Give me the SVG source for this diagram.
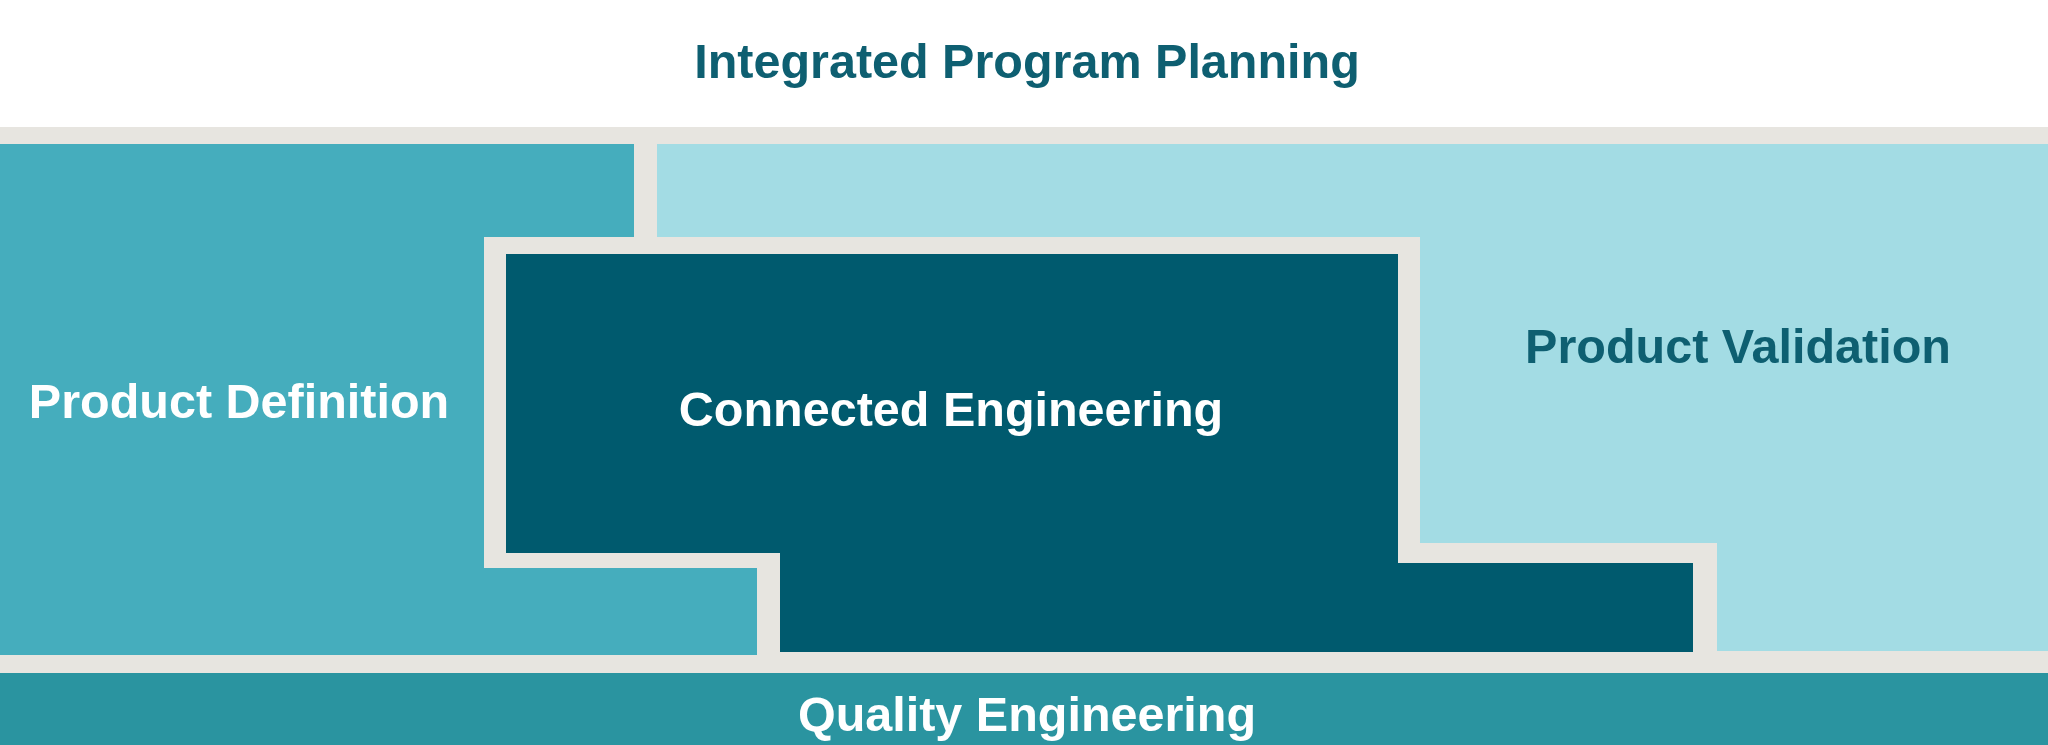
<svg xmlns="http://www.w3.org/2000/svg" width="2048" height="745" viewBox="0 0 2048 745">
<style>
  text { font-family: "Liberation Sans", Arial, sans-serif; font-weight: bold; font-size: 48.5px; text-anchor: middle; }
  .lightText { fill: #FFFFFF; }
  .darkText { fill: #0E5F71; }
</style>
<rect x="0" y="0" width="2048" height="745" fill="#FFFFFF"/>
<rect x="0" y="127" width="2048" height="546" fill="#E7E5E0"/>
<g id="title">
  <text class="darkText" x="1027" y="78">Integrated Program Planning</text>
</g>
<g id="product-validation">
  <polygon points="657,144 2048,144 2048,651 1717,651 1717,543 657,543" fill="#A3DCE4"/>
  <text class="darkText" x="1738" y="363">Product Validation</text>
</g>
<g id="product-definition">
  <polygon points="0,144 634,144 634,568 757,568 757,655 0,655" fill="#45ADBD"/>
  <text class="lightText" x="239" y="418">Product Definition</text>
</g>
<g id="connected-engineering">
  <polygon points="484,237 1420,237 1420,543 1717,543 1717,673 757,673 757,568 484,568" fill="#E7E5E0"/>
  <polygon points="506,254 1398,254 1398,563 1693,563 1693,652 780,652 780,553 506,553" fill="#005A6E"/>
  <text class="lightText" x="951" y="426">Connected Engineering</text>
</g>
<g id="quality-engineering">
  <rect x="0" y="673" width="2048" height="72" fill="#2A94A0"/>
  <text class="lightText" x="1027" y="731">Quality Engineering</text>
</g>
<g id="connectors"></g>
</svg>
